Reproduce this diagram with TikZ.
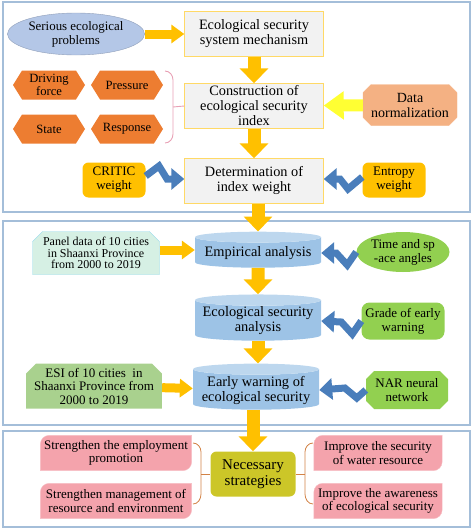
\documentclass[tikz,border=0pt]{standalone}
\usepackage{fontspec}
\setmainfont{Liberation Serif}
\usetikzlibrary{shapes.geometric,shapes.misc,shapes.symbols,arrows.meta,backgrounds}
\definecolor{panelblue}{RGB}{164,190,217}
\definecolor{boxgrey}{RGB}{242,242,242}
\definecolor{boxborder}{RGB}{255,217,102}
\definecolor{ellblue}{RGB}{180,199,231}
\definecolor{hexorange}{RGB}{237,125,49}
\definecolor{normorange}{RGB}{244,177,131}
\definecolor{weightgold}{RGB}{255,192,0}
\definecolor{arrowgold}{RGB}{255,192,0}
\definecolor{brightyellow}{RGB}{255,255,51}
\definecolor{zigblue}{RGB}{74,126,187}
\definecolor{cylblue}{RGB}{157,195,230}
\definecolor{cyltop}{RGB}{189,215,238}
\definecolor{mint}{RGB}{214,240,228}
\definecolor{mintborder}{RGB}{146,216,235}
\definecolor{leafgreen}{RGB}{146,208,80}
\definecolor{palegreen}{RGB}{169,209,142}
\definecolor{olive}{RGB}{204,198,40}
\definecolor{pinkfill}{RGB}{244,163,172}
\definecolor{pinkbrace}{RGB}{232,160,180}
\definecolor{brownbrace}{RGB}{210,130,70}

\begin{document}
\begin{tikzpicture}[x=1pt, y=-1pt,
    every node/.style={align=center, inner sep=1pt, text=black},
    panel/.style={draw=panelblue, line width=1.3pt},
    greybox/.style={rectangle, draw=boxborder, fill=boxgrey, minimum width=139pt,
        minimum height=45pt, font=\fontsize{14.3}{15}\selectfont},
    hexa/.style={signal, signal to=east and west, signal pointer angle=116,
        fill=hexorange, minimum width=72pt, minimum height=29pt,
        font=\fontsize{12.6}{13}\selectfont},
    cyl/.style={cylinder, shape border rotate=90, aspect=0.1, cylinder uses custom fill,
        cylinder body fill=cylblue, cylinder end fill=cyltop, minimum width=126pt,
        minimum height=36pt, font=\fontsize{14.4}{15}\selectfont},
    sidebox/.style={chamfered rectangle, chamfered rectangle xsep=5pt,
        minimum width=82pt, minimum height=38pt, font=\fontsize{13}{14}\selectfont},
    pinkbox/.style={rectangle, minimum height=35pt, font=\fontsize{13}{13.5}\selectfont},
    yarrow/.style={draw=arrowgold, line width=13pt, -{Triangle[length=15pt,width=28pt]}},
    harrow/.style={draw=arrowgold, line width=9pt, -{Triangle[length=13pt,width=18pt]}},
    zarrow/.style={draw=zigblue, line width=7pt, line join=miter, -{Triangle[length=13pt,width=21pt]}}]
    \useasboundingbox (0,0) rectangle (474,530);
    \draw [panel] (3,2) rectangle (470,212);
    \draw [panel] (3,221) rectangle (470,425);
    \draw [panel] (3,431) rectangle (470,527);

    % first panel
    \node [ellipse, draw=ellblue!80!black, fill=ellblue, minimum width=128pt, minimum height=42pt,
        font=\fontsize{12.9}{14}\selectfont] (problems) at (76,34) {Serious ecological\\problems};
    \node [greybox] (mechanism) at (254,34) {Ecological security\\system mechanism};
    \node [greybox] (construction) at (254,106) {Construction of\\ecological security\\index};
    \node [greybox] (determination) at (254,181) {Determination of\\index weight};
    \node [hexa] (driving) at (49,85) {Driving\\force};
    \node [hexa] (pressure) at (127,85) {Pressure};
    \node [hexa] (state) at (49,129) {State};
    \node [hexa] (response) at (127,129) {Response};
    \node [sidebox, draw=hexorange!60, fill=normorange, minimum width=94pt, minimum height=41pt,
        font=\fontsize{14}{15}\selectfont] (normalization) at (410,105) {Data\\normalization};
    \node [rectangle, rounded corners=6pt, fill=weightgold, minimum width=63pt, minimum height=35pt,
        font=\fontsize{13}{14}\selectfont] (critic) at (114,180) {CRITIC\\weight};
    \node [rectangle, rounded corners=6pt, fill=weightgold, minimum width=63pt, minimum height=35pt,
        font=\fontsize{13}{14}\selectfont] (entropy) at (394,180) {Entropy\\weight};
    \coordinate (topbrace) at (173,107);
    \draw [pinkbrace, line width=0.9pt] (165,71) to[out=0,in=90] (173,80) -- (173,134)
        to[out=-90,in=0] (165,143);
    \draw [pinkbrace, line width=0.9pt] (topbrace) -- (construction.west);

    \draw [harrow] (problems) -- (mechanism);
    \draw [yarrow] (mechanism) -- (construction);
    \draw [yarrow] (construction) -- (determination);
    \draw [draw=brightyellow, line width=12pt, -{Triangle[length=20pt,width=27pt]}]
        (normalization) -- (construction);
    \draw [zarrow] (critic.east) ++(0,-4) -- (159,166) -- (167,179) -- (determination.west |- 0,179);
    \draw [zarrow] (entropy.west) ++(0,-3) -- (348,189) -- (340,179) -- (determination.east |- 0,179);

    % second panel
    \node [cyl] (empirical) at (258,253) {Empirical analysis};
    \node [cyl, minimum height=38pt] (secanalysis) at (258,321) {Ecological security\\analysis};
    \node [cyl, minimum height=38pt] (warning) at (256,390) {Early warning of\\ecological security};
    \node [sidebox, chamfered rectangle corners={north west,north east}, chamfered rectangle xsep=7pt,
        draw=mintborder, fill=mint, minimum width=127pt, minimum height=43pt,
        font=\fontsize{12}{11.7}\selectfont] (paneldata) at (96,253)
        {Panel data of 10 cities\\in Shaanxi Province\\from 2000 to 2019};
    \node [ellipse, fill=leafgreen, minimum width=83pt, minimum height=40pt,
        font=\fontsize{13}{14}\selectfont] (angles) at (403,252) {Time and sp\\-ace angles};
    \node [rectangle, rounded corners=8pt, fill=leafgreen, minimum width=83pt, minimum height=37pt,
        font=\fontsize{13}{14}\selectfont] (grade) at (403,321) {Grade of early\\warning};
    \node [sidebox, chamfered rectangle corners={north west,north east}, chamfered rectangle xsep=7pt,
        fill=palegreen, minimum width=126pt, minimum height=45pt,
        font=\fontsize{13}{13.5}\selectfont] (esi) at (94,386)
        {ESI of 10 cities~ in\\Shaanxi Province from\\2000 to 2019};
    \node [sidebox, fill=leafgreen] (nar) at (407,390) {NAR neural\\network};

    \draw [yarrow] (empirical.north |- determination.south) -- (empirical.north);
    \draw [yarrow] (empirical) -- (secanalysis);
    \draw [yarrow] (secanalysis.south) -- (secanalysis.south |- warning.north);
    \draw [harrow] (paneldata.east) ++(0,-3) -- (empirical.west |- 0,250);
    \draw [harrow] (esi) -- (warning);
    \draw [zarrow] (angles.west) -- ++(-9,13) -- ++(-11,-12) -- (empirical.east);
    \draw [zarrow] (grade.west) -- ++(-9,13) -- ++(-11,-12) -- (secanalysis.east);
    \draw [zarrow] (nar.west) -- ++(-9,8) -- ++(-12,-10) -- (warning.east);

    % third panel
    \node [rectangle, rounded corners=6pt, fill=olive, minimum width=85pt, minimum height=45pt,
        font=\fontsize{15}{15.5}\selectfont] (strategies) at (253,474) {Necessary\\strategies};
    \node [pinkbox, minimum width=151pt] (employ) at (116,453) {Strengthen the employment\\promotion};
    \node [pinkbox, minimum width=151pt] (manage) at (116,501) {Strengthen management of\\resource and environment};
    \node [pinkbox, minimum width=128pt] (water) at (378,453) {Improve the security\\of water resource};
    \node [pinkbox, minimum width=128pt] (aware) at (378,501) {Improve the awareness\\of ecological security};
    \begin{scope}[on background layer]
        \foreach \b in {employ,manage,water,aware}
            \filldraw [fill=pinkfill, draw=pinkfill!70!white] (\b.west) [rounded corners=9pt] |- (\b.north)
                [sharp corners] -| (\b.east) [rounded corners=9pt] |- (\b.south)
                [sharp corners] -| (\b.west) -- cycle;
    \end{scope}
    \coordinate (leftbrace) at (201,474);
    \coordinate (rightbrace) at (305,474);
    \draw [brownbrace, line width=0.8pt] (193,443) to[out=0,in=90] (201,452) -- (201,494)
        to[out=-90,in=0] (193,504);
    \draw [brownbrace, line width=0.8pt] (313,443) to[out=180,in=90] (305,452) -- (305,494)
        to[out=-90,in=180] (313,504);
    \draw [brownbrace, line width=0.8pt] (leftbrace) -- (strategies.west);
    \draw [brownbrace, line width=0.8pt] (rightbrace) -- (strategies.east);
    \draw [yarrow] (strategies.north |- warning.south) -- (strategies.north);
\end{tikzpicture}
\end{document}
